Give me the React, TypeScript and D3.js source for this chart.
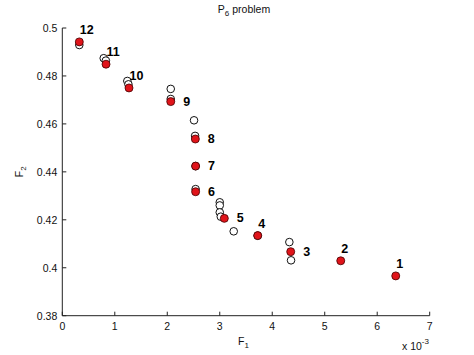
import React from "react";
import * as d3 from "d3";

// Red (selected) solutions, numbered 1..12
const solutionIds = ["1", "2", "3", "4", "5", "6", "7", "8", "9", "10", "11", "12"];
const redF1 = [6.353, 5.305, 4.352, 3.723, 3.087, 2.54, 2.54, 2.535, 2.066, 1.271, 0.833, 0.324];
const redF2 = [0.3966, 0.4029, 0.4067, 0.4134, 0.4206, 0.4317, 0.4424, 0.4537, 0.4693, 0.475, 0.4849, 0.4942];
const labelSide = ["above", "above", "right", "above", "right", "right", "right", "right", "right", "above", "above", "above"];

// Open (front) solutions
const openF1 = [0.324, 0.789, 0.83, 1.239, 1.26, 2.066, 2.066, 2.51, 2.53, 2.54, 2.54, 3.0, 3.0, 3.0, 3.02, 3.266, 3.723, 4.326, 4.358];
const openF2 = [0.4929, 0.4874, 0.4864, 0.4779, 0.4765, 0.4746, 0.4704, 0.4615, 0.455, 0.4328, 0.4424, 0.4273, 0.426, 0.4231, 0.4213, 0.4152, 0.4134, 0.4107, 0.4031];

const xTicks = [0, 1, 2, 3, 4, 5, 6, 7];
const yTicks = [0.38, 0.4, 0.42, 0.44, 0.46, 0.48, 0.5];
const yTickLabels = ["0.38", "0.4", "0.42", "0.44", "0.46", "0.48", "0.5"];

export default function App() {
  const W = 474, H = 355;
  const x = d3.scaleLinear().domain([0, 7]).range([62.3, 429.7]);
  const y = d3.scaleLinear().domain([0.38, 0.5]).range([315.7, 28]);
  const font = "Arial, 'Liberation Sans', sans-serif";
  const axisColor = "#222";

  return (
    <svg width={W} height={H} style={{ position: "absolute", left: 0, top: 0, background: "#fff" }} fontFamily={font}>
      <rect width={W} height={H} fill="#fff" />
      {/* title */}
      <text x={244} y={13} textAnchor="middle" fontSize={10.5} fill="#111">
        P<tspan fontSize={8} dy={3}>6</tspan><tspan dy={-3}> problem</tspan>
      </text>
      {/* axes */}
      <line x1={x(0)} x2={x(7)} y1={y(0.38)} y2={y(0.38)} stroke={axisColor} strokeWidth={1} />
      <line x1={x(0)} x2={x(0)} y1={y(0.38)} y2={y(0.5)} stroke={axisColor} strokeWidth={1} />
      {xTicks.map((t) => (
        <g key={"xt" + t}>
          <line x1={x(t)} x2={x(t)} y1={y(0.38)} y2={y(0.38) - 4} stroke={axisColor} />
          <text x={x(t)} y={y(0.38) + 14} textAnchor="middle" fontSize={10.5} fill="#111">{t}</text>
        </g>
      ))}
      {yTicks.map((t, i) => (
        <g key={"yt" + t}>
          <line x1={x(0)} x2={x(0) + 4} y1={y(t)} y2={y(t)} stroke={axisColor} />
          <text x={x(0) - 5} y={y(t) + 3.8} textAnchor="end" fontSize={10.5} fill="#111">{yTickLabels[i]}</text>
        </g>
      ))}
      {/* axis labels */}
      <text x={238} y={345} fontSize={10.5} fill="#111">
        F<tspan fontSize={8} dy={3}>1</tspan>
      </text>
      <text x={402} y={350} fontSize={10.5} fill="#111">
        x 10<tspan fontSize={8} dy={-6}>-3</tspan>
      </text>
      <text transform={`translate(23,${(y(0.38) + y(0.5)) / 2}) rotate(-90)`} textAnchor="middle" fontSize={10.5} fill="#111">
        F<tspan fontSize={8} dy={3}>2</tspan>
      </text>
      {/* open circles */}
      {openF1.map((v, i) => (
        <circle key={"o" + i} cx={x(v)} cy={y(openF2[i])} r={3.8} fill="#fff" stroke="#111" strokeWidth={1} />
      ))}
      {/* red circles */}
      {redF1.map((v, i) => (
        <circle key={"r" + i} cx={x(v)} cy={y(redF2[i])} r={4} fill="#e0141a" stroke="#400" strokeWidth={0.8} />
      ))}
      {/* labels */}
      {redF1.map((v, i) => {
        const above = labelSide[i] === "above";
        return (
          <text
            key={"l" + i}
            x={x(v) + (above ? 0.5 : 12.5)}
            y={y(redF2[i]) + (above ? -8 : 4)}
            fontSize={12.5}
            fontWeight="bold"
            fill="#000"
          >
            {solutionIds[i]}
          </text>
        );
      })}
    </svg>
  );
}
